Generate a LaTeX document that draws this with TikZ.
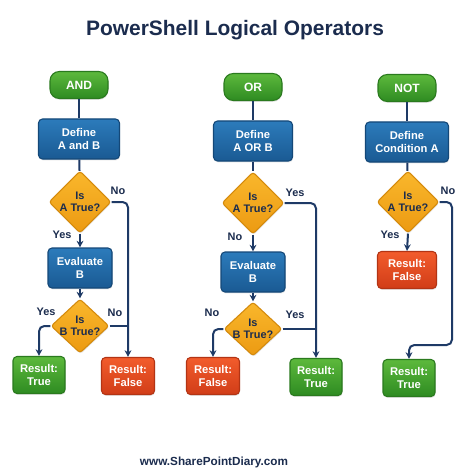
\documentclass[tikz,border=0pt]{standalone}
\usepackage{fontspec}
\setmainfont{Liberation Sans}
\usetikzlibrary{shapes.geometric,arrows.meta,shadows}
\definecolor{navy}{HTML}{1B2C4E}
\definecolor{conn}{HTML}{1E3A66}
\definecolor{gtop}{HTML}{5DB93C}\definecolor{gbot}{HTML}{2E8B22}\definecolor{gbrd}{HTML}{2A7A1E}
\definecolor{btop}{HTML}{2C7BBB}\definecolor{bbot}{HTML}{1A5A93}\definecolor{bbrd}{HTML}{144878}
\definecolor{otop}{HTML}{F9B72C}\definecolor{obot}{HTML}{EC9A12}\definecolor{obrd}{HTML}{D48A0C}
\definecolor{rtop}{HTML}{F25C2C}\definecolor{rbot}{HTML}{D13D18}\definecolor{rbrd}{HTML}{B33414}
\tikzset{
  box/.style={rectangle,rounded corners=3pt,draw,line width=0.8pt,align=center,
    text=white,font=\bfseries\fontsize{8.4}{9.6}\selectfont,inner sep=1pt,
    drop shadow={shadow xshift=0.4pt,shadow yshift=-1pt,opacity=0.2}},
  pill/.style={box,rounded corners=7pt,top color=gtop,bottom color=gbot,draw=gbrd,
    minimum width=58*0.75pt,minimum height=27*0.75pt,font=\bfseries\fontsize{9}{10}\selectfont},
  defbox/.style={box,top color=btop,bottom color=bbot,draw=bbrd,minimum width=81*0.75pt,minimum height=40*0.75pt},
  evalbox/.style={box,top color=btop,bottom color=bbot,draw=bbrd,minimum width=64*0.75pt,minimum height=40*0.75pt},
  truebox/.style={box,top color=gtop,bottom color=gbot,draw=gbrd,minimum width=52*0.75pt,minimum height=37*0.75pt},
  falsebox/.style={box,top color=rtop,bottom color=rbot,draw=rbrd,minimum width=53*0.75pt,minimum height=37*0.75pt,
    font=\bfseries\fontsize{8.4}{10}\selectfont},
  dia/.style={diamond,draw=obrd,line width=0.8pt,top color=otop,bottom color=obot,align=center,
    text=navy,font=\bfseries\fontsize{8.2}{8.6}\selectfont,inner sep=-3.5pt,rounded corners=2pt,
    drop shadow={shadow xshift=0.4pt,shadow yshift=-1pt,opacity=0.2}},
  diaA/.style={dia,minimum width=62*0.75pt,minimum height=62*0.75pt},
  diaB/.style={dia,minimum width=58*0.75pt,minimum height=54*0.75pt},
  lbl/.style={text=navy,font=\bfseries\fontsize{8.2}{9}\selectfont,inner sep=0pt},
  link/.style={draw=conn,line width=1.5pt,rounded corners=4pt},
  arr/.style={link,-{Stealth[length=5pt,width=5pt]}},
}
\begin{document}
\begin{tikzpicture}[x=0.75pt,y=-0.75pt]
\useasboundingbox[fill=white] (0,0) rectangle (474,474);
\node[text=navy,font=\bfseries\fontsize{15.7}{17}\selectfont] (title) at (235,30) {PowerShell Logical Operators};
\node[text=navy,font=\bfseries\fontsize{8.8}{10}\selectfont] (footer) at (214,462) {www.SharePointDiary.com};

% AND column
\node[pill] (andp) at (79,85) {AND};
\node[defbox] (defA) at (79,139) {Define\\A and B};
\node[diaA] (dA) at (80,202) {Is\\A True?};
\node[evalbox] (evalA) at (80,268) {Evaluate\\B};
\node[diaB] (dB) at (80,326) {Is\\B True?};
\node[truebox] (trueA) at (39,375) {Result:\\True};
\node[falsebox] (falseA) at (128,376) {Result:\\False};
\draw[link] (andp) -- (defA);
\draw[link] (defA) -- (dA);
\draw[arr] (dA.south) -- (evalA.north);
\draw[arr] (evalA.south) -- (dB.north);
\draw[arr] (dA.east) -| (falseA.north);
\draw[link] (dB.east) -- (falseA.north |- dB.east);
\draw[arr] (dB.west) -| (trueA.north);
\node[lbl] (a1) at (118,191) {No};
\node[lbl] (a2) at (62,235) {Yes};
\node[lbl] (a3) at (46,312) {Yes};
\node[lbl] (a4) at (115,313) {No};

% OR column
\node[pill] (orp) at (253,87) {OR};
\node[defbox,minimum width=79*0.75pt] (defO) at (253,141) {Define\\A OR B};
\node[diaA] (dAo) at (253,203) {Is\\A True?};
\node[evalbox] (evalO) at (253,272) {Evaluate\\B};
\node[diaB] (dBo) at (253,329) {Is\\B True?};
\node[falsebox] (falseO) at (213,376) {Result:\\False};
\node[truebox] (trueO) at (316,377) {Result:\\True};
\draw[link] (orp) -- (defO);
\draw[link] (defO) -- (dAo);
\draw[arr] (dAo.south) -- (evalO.north);
\draw[arr] (evalO.south) -- (dBo.north);
\draw[arr] (dAo.east) -| (trueO.north);
\draw[link] (dBo.east) -- (trueO.north |- dBo.east);
\draw[arr] (dBo.west) -| (falseO.north);
\node[lbl] (o1) at (295,193) {Yes};
\node[lbl] (o2) at (235,237) {No};
\node[lbl] (o3) at (212,313) {No};
\node[lbl] (o4) at (295,315) {Yes};

% NOT column
\node[pill] (notp) at (407,88) {NOT};
\node[defbox,minimum width=83*0.75pt] (defN) at (407,142) {Define\\Condition A};
\node[diaA] (dN) at (408,202) {Is\\A True?};
\node[falsebox,minimum width=59*0.75pt] (falseN) at (407,270) {Result:\\False};
\node[truebox] (trueN) at (409,378) {Result:\\True};
\coordinate (nc) at (452,345);
\draw[link] (notp) -- (defN);
\draw[link] (defN) -- (dN);
\draw[arr] (dN.south) -- (falseN.north);
\draw[arr] (dN.east) -| (nc) -| (trueN.north);
\node[lbl] (n1) at (448,191) {No};
\node[lbl] (n2) at (390,235) {Yes};
\end{tikzpicture}
\end{document}
